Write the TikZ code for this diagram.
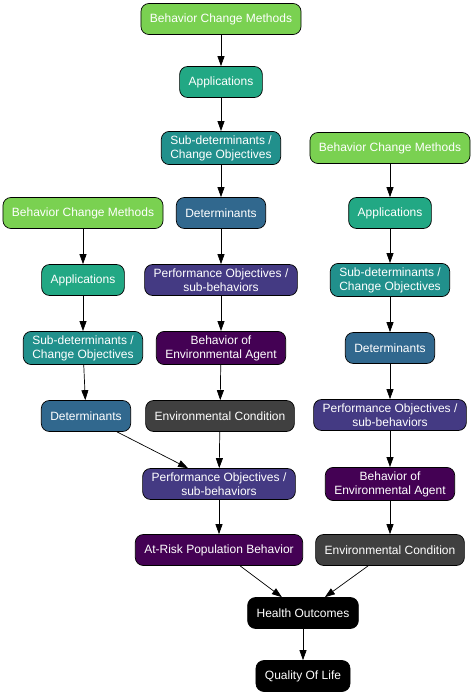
\documentclass[tikz,border=0pt]{standalone}
\usepackage{fontspec}
\setmainfont{Liberation Sans}
\usepackage{xcolor}
\definecolor{methodblk}{HTML}{7AD151}
\definecolor{applblk}{HTML}{22A884}
\definecolor{subdetblk}{HTML}{21908C}
\definecolor{detblk}{HTML}{31688E}
\definecolor{perfblk}{HTML}{443A83}
\definecolor{agentblk}{HTML}{440154}
\definecolor{condblk}{HTML}{404040}
\definecolor{outblk}{HTML}{000000}
\usepackage{tikz}
\usetikzlibrary{arrows.meta,positioning}
\tikzset{
  box/.style     = {draw=black,line width=0.7pt,rounded corners=8pt,
                    minimum height=31pt,inner xsep=9pt,inner ysep=4pt,
                    align=center,text=white,
                    font=\fontsize{12}{14}\selectfont},
  method/.style  = {box,fill=methodblk},
  appl/.style    = {box,fill=applblk},
  subdet/.style  = {box,fill=subdetblk},
  det/.style     = {box,fill=detblk},
  perf/.style    = {box,fill=perfblk},
  agent/.style   = {box,fill=agentblk},
  cond/.style    = {box,fill=condblk},
  outc/.style    = {box,fill=outblk},
  link/.style    = {-{Triangle[length=10pt,width=7pt]},line width=0.7pt},
}

\begin{document}
\begin{tikzpicture}[x=1pt,y=-1pt]
  \useasboundingbox (0,0) rectangle (474,696);
  % middle column (environmental agent)
  \node[method] (bcmA) at (221,19)  {Behavior Change Methods};
  \node[appl]   (appA) at (221,82)  {Applications};
  \node[subdet] (subA) at (221,148) {Sub-determinants /\\Change Objectives};
  \node[det]    (detA) at (221,213) {Determinants};
  \node[perf]   (perfA) at (221,280) {Performance Objectives /\\sub-behaviors};
  \node[agent]  (agtA) at (221,348) {Behavior of\\Environmental Agent};
  \node[cond]   (envA) at (220,416) {Environmental Condition};
  % left column (at-risk population)
  \node[method] (bcmB) at (83,213)  {Behavior Change Methods};
  \node[appl]   (appB) at (83,280)  {Applications};
  \node[subdet] (subB) at (83,348)  {Sub-determinants /\\Change Objectives};
  \node[det]    (detB) at (86,416)  {Determinants};
  \node[perf]   (perfB) at (219,484) {Performance Objectives /\\sub-behaviors};
  \node[agent]  (risk) at (219,550) {At-Risk Population Behavior};
  % right column
  \node[method] (bcmC) at (390,148) {Behavior Change Methods};
  \node[appl]   (appC) at (390,213) {Applications};
  \node[subdet] (subC) at (390,280) {Sub-determinants /\\Change Objectives};
  \node[det]    (detC) at (390,348) {Determinants};
  \node[perf]   (perfC) at (390,415) {Performance Objectives /\\sub-behaviors};
  \node[agent]  (agtC) at (390,484) {Behavior of\\Environmental Agent};
  \node[cond]   (envC) at (390,550) {Environmental Condition};
  % outcomes
  \node[outc]   (health) at (303,613) {Health Outcomes};
  \node[outc]   (qol) at (303,676) {Quality Of Life};

  \draw[link] (bcmA) -- (appA);
  \draw[link] (appA) -- (subA);
  \draw[link] (subA) -- (detA);
  \draw[link] (detA) -- (perfA);
  \draw[link] (perfA) -- (agtA);
  \draw[link] (agtA) -- (envA);
  \draw[link] (envA) -- (perfB);
  \draw[link] (bcmB) -- (appB);
  \draw[link] (appB) -- (subB);
  \draw[link] (subB) -- (detB);
  \draw[link] (detB) -- (perfB);
  \draw[link] (perfB) -- (risk);
  \draw[link] (bcmC) -- (appC);
  \draw[link] (appC) -- (subC);
  \draw[link] (subC) -- (detC);
  \draw[link] (detC) -- (perfC);
  \draw[link] (perfC) -- (agtC);
  \draw[link] (agtC) -- (envC);
  \draw[link] (risk) -- (health);
  \draw[link] (envC) -- (health);
  \draw[link] (health) -- (qol);
\end{tikzpicture}
\end{document}
